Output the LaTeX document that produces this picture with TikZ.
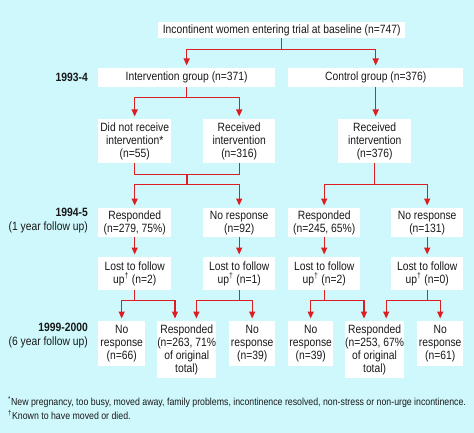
\documentclass[tikz,border=0pt]{standalone}
\usepackage{fontspec}
\setmainfont{Liberation Sans}[FakeStretch=0.86]
\usetikzlibrary{calc,arrows.meta,backgrounds}
\definecolor{bgc}{RGB}{206,248,251}
\definecolor{shc}{RGB}{70,208,228}
\definecolor{redc}{RGB}{220,30,35}
\definecolor{txt}{RGB}{25,25,25}
\begin{document}
\begin{tikzpicture}[x=1pt,y=-1pt,
 box/.style={fill=white, anchor=north west, align=center, inner sep=0pt, font=\fontsize{12}{13}\selectfont, text=txt},
 arr/.style={draw=redc, line width=1.4pt, -{Triangle[length=7pt,width=6pt]}, shorten >=2.5pt},
 ln/.style={draw=redc, line width=1.4pt},
 shad/.style={fill=shc},
 lab/.style={anchor=east, align=right, font=\fontsize{12}{14}\selectfont, text=txt, inner sep=0pt},
 fn/.style={anchor=west, font=\fontsize{10.2}{12}\selectfont, text=txt, inner sep=0pt}]
\fill[bgc] (0,0) rectangle (474,433);
\useasboundingbox (0,0) rectangle (474,433);

% boxes
\node[box, minimum width=247pt, minimum height=16pt] (top) at (158,22) {Incontinent women entering trial at baseline (n=747)};
\node[box, minimum width=177pt, minimum height=19pt] (int) at (98,68) {Intervention group (n=371)};
\node[box, minimum width=175pt, minimum height=19pt] (ctrl) at (288,68) {Control group (n=376)};

\node[box, minimum width=73pt, minimum height=44pt] (dnr) at (98,119) {Did not receive\\intervention*\\(n=55)};
\node[box, minimum width=72pt, minimum height=44pt] (rec1) at (203,119) {Received\\intervention\\(n=316)};
\node[box, minimum width=73pt, minimum height=44pt] (rec2) at (338,119) {Received\\intervention\\(n=376)};

\node[box, minimum width=73pt, minimum height=29pt] (resp1) at (98,208) {Responded\\(n=279, 75\%)};
\node[box, minimum width=72pt, minimum height=29pt] (nr1) at (203,208) {No response\\(n=92)};
\node[box, minimum width=72pt, minimum height=29pt] (resp2) at (288,208) {Responded\\(n=245, 65\%)};
\node[box, minimum width=72pt, minimum height=29pt] (nr2) at (391,208) {No response\\(n=131)};

\node[box, minimum width=73pt, minimum height=33pt] (lost1) at (98,257) {Lost to follow\\up\textsuperscript{†} (n=2)};
\node[box, minimum width=72pt, minimum height=33pt] (lost2) at (203,257) {Lost to follow\\up\textsuperscript{†} (n=1)};
\node[box, minimum width=72pt, minimum height=33pt] (lost3) at (288,257) {Lost to follow\\up\textsuperscript{†} (n=2)};
\node[box, minimum width=72pt, minimum height=33pt] (lost4) at (391,257) {Lost to follow\\up\textsuperscript{†} (n=0)};

\node[box, minimum width=47pt, minimum height=45pt] (nrA) at (98,321) {No\\response\\(n=66)};
\node[box, minimum width=59pt, minimum height=57pt] (respA) at (157,321) {Responded\\(n=263, 71\%\\of original\\total)};
\node[box, minimum width=46pt, minimum height=45pt] (nrB) at (229,321) {No\\response\\(n=39)};
\node[box, minimum width=45pt, minimum height=45pt] (nrC) at (288,321) {No\\response\\(n=39)};
\node[box, minimum width=58pt, minimum height=57pt] (respB) at (345,321) {Responded\\(n=253, 67\%\\of original\\total)};
\node[box, minimum width=46pt, minimum height=45pt] (nrD) at (417,321) {No\\response\\(n=61)};

% shadows
\begin{pgfonlayer}{background}
\foreach \n in {top,int,ctrl,dnr,rec1,rec2,resp1,nr1,resp2,nr2,lost1,lost2,lost3,lost4,nrA,respA,nrB,nrC,respB,nrD}
  \fill[shad] ($(\n.north west)+(2,2)$) rectangle ($(\n.south east)+(2,2)$);
\end{pgfonlayer}

% labels
\node[lab, font=\fontsize{12}{14}\selectfont\bfseries] (l1) at (88,77) {1993-4};
\node[lab] (l2) at (88,221) {\textbf{1994-5}\\(1 year follow up)};
\node[lab] (l3) at (88,336) {\textbf{1999-2000}\\(6 year follow up)};

\node[fn] (fn1) at (8,402) {\textsuperscript{*}New pregnancy, too busy, moved away, family problems, incontinence resolved, non-stress or non-urge incontinence.};
\node[fn] (fn2) at (8,415) {\textsuperscript{†}Known to have moved or died.};

% connectors
\draw[arr] (top.south) -- ++(0,11) -| (int.north);
\draw[arr] (top.south) -- ++(0,11) -| (ctrl.north);
\draw[arr] (int.south) -- ++(0,10) -| (dnr.north);
\draw[arr] (int.south) -- ++(0,10) -| (rec1.north);
\draw[arr] (ctrl.south) -- (ctrl.south |- rec2.north);

\draw[ln] (dnr.south) -- ++(0,11) -| (rec1.south);
\coordinate (j2) at ($(dnr.south)!0.5!(rec1.south)+(0,11)$);
\draw[arr] (j2) -- ++(0,10) -| (resp1.north);
\draw[arr] (j2) -- ++(0,10) -| (nr1.north);
\draw[arr] (rec2.south) -- ++(0,21) -| (resp2.north);
\draw[arr] (rec2.south) -- ++(0,21) -| (nr2.north);

\draw[arr] (resp1.south) -- (lost1.north);
\draw[arr] (nr1.south) -- (lost2.north);
\draw[arr] (resp2.south) -- (lost3.north);
\draw[arr] (nr2.south) -- (lost4.north);

\draw[arr] (lost1.south) -- ++(0,10) -| (nrA.north);
\draw[arr] (lost1.south) -- ++(0,10) -| ($(respA.north west)+(18,0)$);
\draw[arr] (lost2.south) -- ++(0,10) -| ($(respA.north east)+(-20,0)$);
\draw[arr] (lost2.south) -- ++(0,10) -| (nrB.north);
\draw[arr] (lost3.south) -- ++(0,10) -| (nrC.north);
\draw[arr] (lost3.south) -- ++(0,10) -| ($(respB.north west)+(19,0)$);
\draw[arr] (lost4.south) -- ++(0,10) -| ($(respB.north east)+(-18,0)$);
\draw[arr] (lost4.south) -- ++(0,10) -| (nrD.north);
\end{tikzpicture}
\end{document}
